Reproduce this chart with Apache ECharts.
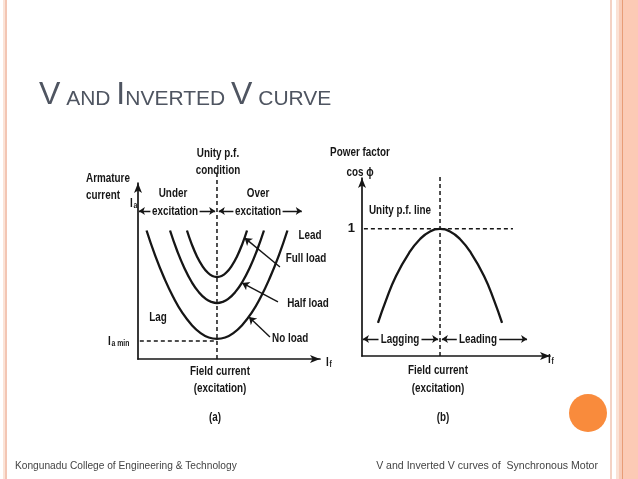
<!DOCTYPE html>
<html>
<head>
<meta charset="utf-8">
<style>html,body{margin:0;padding:0;background:#fff;}#c{width:638px;height:479px;}</style>
<script src="https://cdn.jsdelivr.net/npm/echarts/dist/echarts.min.js"></script>
</head>
<body>
<div id="c"></div>
<script>
// ---- data ----
// (a) V curves: [field current, armature current]
const fullLoad = [[2.69,7.30],[2.94,6.56],[3.24,5.83],[3.54,5.28],[3.84,4.90],[4.09,4.72],[4.34,4.66],[4.59,4.72],[4.84,4.90],[5.14,5.28],[5.44,5.83],[5.74,6.56],[5.99,7.30]];
const halfLoad = [[1.76,7.30],[2.14,6.18],[2.54,5.19],[2.94,4.39],[3.34,3.80],[3.74,3.40],[4.04,3.24],[4.34,3.18],[4.64,3.24],[4.94,3.40],[5.34,3.80],[5.74,4.39],[6.14,5.19],[6.54,6.18],[6.92,7.30]];
const noLoad   = [[0.47,7.30],[0.94,5.89],[1.44,4.60],[1.94,3.51],[2.44,2.62],[2.94,1.95],[3.44,1.47],[3.89,1.22],[4.34,1.14],[4.79,1.22],[5.24,1.47],[5.74,1.95],[6.24,2.62],[6.74,3.51],[7.24,4.60],[7.74,5.89],[8.21,7.30]];
const unityA = 4.34;      // unity p.f. field current (a)
const iaMin = 1.02;       // Ia min level
const unityTopA = 10.6;
const excitationY = 8.41;
const excitationEnd = 9.0;
// leader lines (curve point -> label)
const leaders = [
  [[5.86,6.88],[7.80,5.23]],
  [[5.72,4.32],[7.69,3.24]],
  [[6.10,2.39],[7.25,1.25]]
];
// (b) inverted V curve: [field current, power factor]
const pfCurve = [[0.85,0.26],[1.28,0.44],[1.81,0.63],[2.50,0.81],[3.09,0.92],[3.62,0.98],[4.15,1.00],[4.68,0.98],[5.21,0.92],[5.80,0.81],[6.49,0.63],[7.02,0.44],[7.45,0.26]];
const unityB = 4.15;
const unityTopB = 1.41;
const unityLineEnd = 8.03;
const lagLeadY = 0.134;
const leadEnd = 8.78;
const pfTicks = [1];

const FF = '"Liberation Sans",Arial,sans-serif';
const INK = '#161616';
const SX = 0.76;

function axisCommon(grid, max, extra) {
  return Object.assign({
    gridIndex: grid, type: 'value', min: 0, max: max,
    axisLine: {show: true, symbol: ['none','arrow'], symbolSize: [6,10], lineStyle: {color: INK, width: 1.7}},
    axisTick: {show: false}, axisLabel: {show: false}, splitLine: {show: false}
  }, extra || {});
}

const txt = (x, y, s, opt, sx) => ({
  type: 'text', x: x, y: y, silent: true, z: 100, scaleX: sx || SX,
  style: Object.assign({text: s, fill: INK, font: 'bold 13px ' + FF, textAlign: 'center', textVerticalAlign: 'middle'}, opt || {})
});
const sub = (x, y, m, s) => ({
  type: 'text', x: x, y: y, z: 100, silent: true, scaleX: SX,
  style: {text: '{m|' + m + '}{s|' + s + '}', textAlign: 'left', textVerticalAlign: 'middle',
    rich: {m: {fontSize: 13, fontWeight: 'bold', fontFamily: FF, fill: INK}, s: {fontSize: 9, fontWeight: 'bold', fontFamily: FF, fill: INK, verticalAlign: 'bottom', padding: [6,0,0,1]}}}
});

const chart = echarts.init(document.getElementById('c'), null, {renderer: 'canvas'});

const option = {
  backgroundColor: '#fff',
  animation: false,
  grid: [
    {left: 138, top: 183, width: 182, height: 176},
    {left: 362, top: 178, width: 188, height: 178}
  ],
  xAxis: [axisCommon(0, 10), axisCommon(1, 10)],
  yAxis: [
    axisCommon(0, 10),
    axisCommon(1, 1.4, {axisLabel: {show: true, customValues: pfTicks, margin: 7, color: INK, fontSize: 13, fontWeight: 'bold', fontFamily: FF}})
  ],
  series: [
    {type: 'line', xAxisIndex: 0, yAxisIndex: 0, data: fullLoad, smooth: true, symbol: 'none', lineStyle: {color: INK, width: 2.3}},
    {type: 'line', xAxisIndex: 0, yAxisIndex: 0, data: halfLoad, smooth: true, symbol: 'none', lineStyle: {color: INK, width: 2.3}},
    {type: 'line', xAxisIndex: 0, yAxisIndex: 0, data: noLoad, smooth: true, symbol: 'none', lineStyle: {color: INK, width: 2.3}},
    {type: 'line', xAxisIndex: 0, yAxisIndex: 0, data: [[unityA,0],[unityA,unityTopA]], clip: false, symbol: 'none', lineStyle: {color: INK, width: 1.5, type: [4,3]}},
    {type: 'line', xAxisIndex: 0, yAxisIndex: 0, data: [[0.1,iaMin],[unityA,iaMin]], clip: false, symbol: 'none', lineStyle: {color: INK, width: 1.5, type: [4,3]}},
    {type: 'lines', coordinateSystem: 'cartesian2d', xAxisIndex: 0, yAxisIndex: 0, symbol: ['arrow','arrow'], symbolSize: 6,
      lineStyle: {color: INK, width: 1.3, opacity: 1},
      data: [{coords: [[0.05,excitationY],[unityA-0.1,excitationY]]}, {coords: [[unityA+0.1,excitationY],[excitationEnd,excitationY]]}]},
    {type: 'lines', coordinateSystem: 'cartesian2d', xAxisIndex: 0, yAxisIndex: 0, symbol: ['arrow','none'], symbolSize: 7,
      lineStyle: {color: INK, width: 1.4, opacity: 1},
      data: leaders.map(l => ({coords: l}))},
    {type: 'line', xAxisIndex: 1, yAxisIndex: 1, data: pfCurve, smooth: true, symbol: 'none', lineStyle: {color: INK, width: 2.3}},
    {type: 'line', xAxisIndex: 1, yAxisIndex: 1, data: [[unityB,0],[unityB,unityTopB]], clip: false, symbol: 'none', lineStyle: {color: INK, width: 1.5, type: [4,3]}},
    {type: 'line', xAxisIndex: 1, yAxisIndex: 1, data: [[0.1,1],[unityLineEnd,1]], clip: false, symbol: 'none', lineStyle: {color: INK, width: 1.5, type: [4,3]}},
    {type: 'lines', coordinateSystem: 'cartesian2d', xAxisIndex: 1, yAxisIndex: 1, symbol: ['arrow','arrow'], symbolSize: 6,
      lineStyle: {color: INK, width: 1.3, opacity: 1},
      data: [{coords: [[0.05,lagLeadY],[unityB-0.1,lagLeadY]]}, {coords: [[unityB+0.1,lagLeadY],[leadEnd,lagLeadY]]}]}
  ],
  graphic: [
    // slide borders
    {type: 'rect', shape: {x: 3, y: 0, width: 2, height: 479}, style: {fill: '#fbe4d8'}, silent: true},
    {type: 'rect', shape: {x: 5, y: 0, width: 2, height: 479}, style: {fill: '#f3c6b4'}, silent: true},
    {type: 'rect', shape: {x: 610, y: 0, width: 2, height: 479}, style: {fill: '#f4d2c4'}, silent: true},
    {type: 'rect', shape: {x: 616, y: 0, width: 3, height: 479}, style: {fill: '#fbe2d5'}, silent: true},
    {type: 'rect', shape: {x: 619, y: 0, width: 3, height: 479}, style: {fill: '#f8cbb8'}, silent: true},
    {type: 'rect', shape: {x: 622, y: 0, width: 1.5, height: 479}, style: {fill: '#e99c76'}, silent: true},
    {type: 'rect', shape: {x: 623.5, y: 0, width: 15, height: 479}, style: {fill: '#fccab5'}, silent: true},
    // orange circle
    {type: 'circle', shape: {cx: 588, cy: 413, r: 19}, style: {fill: '#f98b3c'}, silent: true},
    // title
    {type: 'text', x: 39, y: 111, silent: true, style: {
      text: '{a|V}{b| AND }{a|I}{b|NVERTED }{a|V}{b| CURVE}', textVerticalAlign: 'bottom', textAlign: 'left',
      rich: {a: {fontSize: 32, fontFamily: FF, fill: '#4f5561', verticalAlign: 'bottom'}, b: {fontSize: 21, fontFamily: FF, fill: '#4f5561', verticalAlign: 'bottom', padding: [0,0,1,0]}}}},
    // footer
    txt(15, 466, 'Kongunadu College of Engineering & Technology', {textAlign: 'left', font: '11px ' + FF, fill: '#444'}, 0.925),
    txt(598, 466, 'V and Inverted V curves of  Synchronous Motor', {textAlign: 'right', font: '11px ' + FF, fill: '#444'}, 0.96),
    // (a) labels
    txt(218, 153, 'Unity p.f.'), txt(218, 170, 'condition'),
    txt(108, 178, 'Armature'), txt(103, 195, 'current'),
    sub(130, 203, 'I', 'a'),
    txt(173, 193, 'Under'), txt(175, 211, 'excitation', {backgroundColor: '#fff', padding: [0,2]}),
    txt(258, 193, 'Over'), txt(258, 211, 'excitation', {backgroundColor: '#fff', padding: [0,2]}),
    txt(310, 235, 'Lead'), txt(306, 258, 'Full load'), txt(308, 303, 'Half load'), txt(272, 338, 'No load', {textAlign: 'left'}),
    txt(158, 317, 'Lag'),
    sub(108, 341, 'I', 'a min'),
    sub(326, 362, 'I', 'f'),
    txt(220, 371, 'Field current'), txt(220, 388, '(excitation)'), txt(215, 417, '(a)'),
    // (b) labels
    txt(360, 152, 'Power factor'), txt(360, 172, 'cos ϕ'), txt(400, 210, 'Unity p.f. line'),
    txt(400, 339, 'Lagging', {backgroundColor: '#fff', padding: [0,3]}),
    txt(478, 339, 'Leading', {backgroundColor: '#fff', padding: [0,3]}),
    sub(548, 359, 'I', 'f'),
    txt(438, 370, 'Field current'), txt(438, 388, '(excitation)'), txt(443, 417, '(b)')
  ]
};
chart.setOption(option);
</script>
</body>
</html>
